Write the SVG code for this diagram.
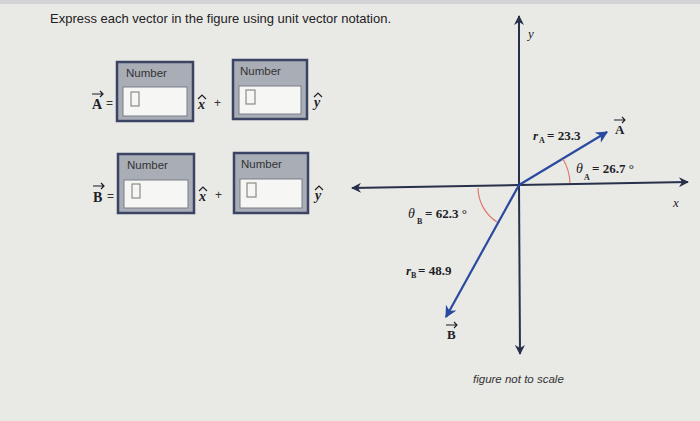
<svg xmlns="http://www.w3.org/2000/svg" width="700" height="421" viewBox="0 0 700 421">
<style>
.sans{font-family:"Liberation Sans",Arial,sans-serif}
.ser{font-family:"Liberation Serif","Times New Roman",serif;fill:#1e1e28}
.b{font-weight:bold}
.i{font-style:italic}
.outer{fill:#a9adb6;stroke:#3b4563;stroke-width:2.5}
.inner{fill:#f6f6f4;stroke:#7a7f88;stroke-width:1}
.cursor{fill:none;stroke:#8a8d85;stroke-width:1.2}
.lbl{font-family:"Liberation Sans",Arial,sans-serif;font-size:11.5px;fill:#333}
.axis{stroke:#28304a;stroke-width:2;fill:none}
.vec{stroke:#2a4aa0;stroke-width:2.2;fill:none}
.arc{stroke:#e07a6a;stroke-width:1.2;fill:none}
</style>
<defs>
<marker id="ah" viewBox="0 0 10 10" refX="9" refY="5" markerWidth="12" markerHeight="10" orient="auto" markerUnits="userSpaceOnUse">
<path d="M0,0 L10,5 L0,10 L3,5 z" fill="#28304a"/>
</marker>
<marker id="vh" viewBox="0 0 10 10" refX="9" refY="5" markerWidth="14" markerHeight="12" orient="auto" markerUnits="userSpaceOnUse">
<path d="M0,0 L10,5 L0,10 L3,5 z" fill="#2a4aa0"/>
</marker>
</defs>
<rect width="700" height="421" fill="#e9e9e6"/>
<rect width="700" height="4" fill="#d2d3d4"/>
<text class="sans" x="50" y="23" font-size="13" fill="#222">Express each vector in the figure using unit vector notation.</text>

<g id="rowA">
<text class="ser b" x="92" y="109" font-size="14">A</text>
<path d="M92,94 L103,94 M100,91 L103,94 L100,97" stroke="#1e1e28" stroke-width="1.2" fill="none"/>
<text class="sans" x="106" y="107" font-size="12" fill="#333">=</text>
<rect class="outer" x="117" y="62" width="76" height="59"/>
<text class="lbl" x="126" y="77">Number</text>
<rect class="inner" x="123" y="87" width="64" height="29"/>
<rect class="cursor" x="131" y="92" width="8" height="14"/>
<text class="ser b i" x="198" y="109" font-size="14">x</text>
<path d="M198,99 L202,95 L206,99" stroke="#1e1e28" stroke-width="1.2" fill="none"/>
<text class="sans" x="214" y="107" font-size="12" fill="#333">+</text>
<rect class="outer" x="233" y="60" width="74" height="59"/>
<text class="lbl" x="240" y="75">Number</text>
<rect class="inner" x="239" y="86" width="62" height="28"/>
<rect class="cursor" x="246" y="90" width="9" height="14"/>
<text class="ser b i" x="314" y="107" font-size="14">y</text>
<path d="M314,97 L318,93 L322,97" stroke="#1e1e28" stroke-width="1.2" fill="none"/>
</g>

<g id="rowB">
<text class="ser b" x="93" y="202" font-size="14">B</text>
<path d="M93,186 L104,186 M101,183 L104,186 L101,189" stroke="#1e1e28" stroke-width="1.2" fill="none"/>
<text class="sans" x="107" y="200" font-size="12" fill="#333">=</text>
<rect class="outer" x="118" y="154" width="76" height="59"/>
<text class="lbl" x="127" y="169">Number</text>
<rect class="inner" x="124" y="180" width="64" height="28"/>
<rect class="cursor" x="132" y="184" width="8" height="14"/>
<text class="ser b i" x="199" y="201" font-size="14">x</text>
<path d="M199,191 L203,187 L207,191" stroke="#1e1e28" stroke-width="1.2" fill="none"/>
<text class="sans" x="215" y="199" font-size="12" fill="#333">+</text>
<rect class="outer" x="234" y="153" width="74" height="60"/>
<text class="lbl" x="241" y="168">Number</text>
<rect class="inner" x="240" y="179" width="62" height="29"/>
<rect class="cursor" x="247" y="183" width="9" height="14"/>
<text class="ser b i" x="315" y="200" font-size="14">y</text>
<path d="M315,190 L319,186 L323,190" stroke="#1e1e28" stroke-width="1.2" fill="none"/>
</g>

<g id="connectors">
<line class="axis" x1="519" y1="185" x2="519" y2="16" marker-end="url(#ah)"/>
<line class="axis" x1="519" y1="185" x2="520" y2="354" marker-end="url(#ah)"/>
<line class="axis" x1="519" y1="185" x2="352" y2="188" marker-end="url(#ah)"/>
<line class="axis" x1="519" y1="185" x2="688" y2="182" marker-end="url(#ah)"/>
<line class="vec" x1="519" y1="185" x2="607" y2="132" marker-end="url(#vh)"/>
<line class="vec" x1="519" y1="185" x2="446" y2="317" marker-end="url(#vh)"/>
<path class="arc" d="M570,183 A51,51 0 0 0 563,159"/>
<path class="arc" d="M478,188 A41,41 0 0 0 497,222"/>
</g>

<g id="labels">
<text class="ser i" x="528" y="38" font-size="13">y</text>
<text class="ser i" x="673" y="207" font-size="13">x</text>
<text class="ser b i" x="533" y="140" font-size="13">r</text>
<text class="ser b" x="539" y="143" font-size="8">A</text>
<text class="ser b" x="547" y="140" font-size="13">= 23.3</text>
<text class="ser b" x="615" y="134" font-size="13">A</text>
<path d="M614,120 L625,120 M622,117 L625,120 L622,123" stroke="#1e1e28" stroke-width="1.1" fill="none"/>
<text class="ser i" x="576" y="173" font-size="14">θ</text>
<text class="ser b" x="584" y="180" font-size="8">A</text>
<text class="ser b" x="592" y="173" font-size="13">= 26.7 °</text>
<text class="ser i" x="408" y="218" font-size="14">θ</text>
<text class="ser b" x="417" y="224" font-size="8">B</text>
<text class="ser b" x="425" y="218" font-size="13">= 62.3 °</text>
<text class="ser b i" x="406" y="275" font-size="13">r</text>
<text class="ser b" x="411" y="278" font-size="8">B</text>
<text class="ser b" x="418" y="275" font-size="13">= 48.9</text>
<text class="ser b" x="447" y="339" font-size="13">B</text>
<path d="M446,325 L457,325 M454,322 L457,325 L454,328" stroke="#1e1e28" stroke-width="1.1" fill="none"/>
<text class="sans i" x="473" y="383" font-size="11.5" fill="#333">figure not to scale</text>
</g>
</svg>
